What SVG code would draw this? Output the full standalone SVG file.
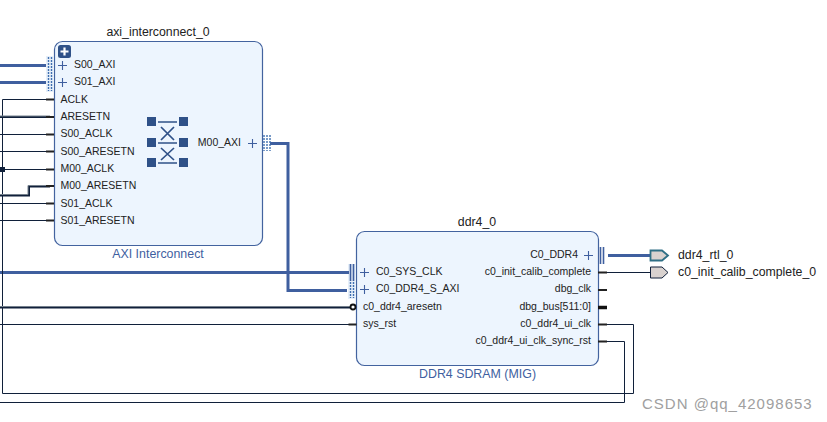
<svg xmlns="http://www.w3.org/2000/svg" width="827" height="422" viewBox="0 0 827 422">
<style>
text{font-family:"Liberation Sans",Arial,sans-serif;fill:#222}
.p{font-size:10.5px}.r{text-anchor:end}.t{font-size:12.300px;text-anchor:middle}
.ty{font-size:12.400px;text-anchor:middle;fill:#3f5f9f}
.ext{font-size:12.300px}
.blk{fill:#edf5fe;stroke:#43639f;stroke-width:1.2}
.thick{fill:none;stroke:#3f5f9f;stroke-width:3}
.thin{fill:none;stroke:#10203a;stroke-width:1}
.bus{fill:none;stroke:#10203a;stroke-width:2}
.bush{fill:none;stroke:#75808c;stroke-width:1}
.stub{stroke:#222;stroke-width:2;fill:none}
.plus{stroke:#3f5f9f;stroke-width:1.100;fill:none}
.ic{fill:#2f5188}
.icl{stroke:#2f5188;stroke-width:1.700;fill:none}
.dots{stroke:#3f6fb0;stroke-width:1.400;stroke-dasharray:2 1;fill:none}
.bars{stroke:#3f5f9f;stroke-width:1.600;fill:none}
.halo{fill:#e6eff9}
</style>
<g id="connectors">
<path class="thick" d="M0 65.500H46M0 82.500H46M270 143.500H288V290.500H347M0 272.500H348M608 255.500H650"/>
<path class="thin" d="M50 99.500H2.500V393.500H633.500V324.500H606M0 134.500H50M0 151.500H50M0 169.500H50M0 203.500H50M0 220.500H50M0 324.500H350M0 402.500H624.500V341.500H606M606 272.500H650"/>
<path class="bus" d="M0 117H50M0 195.500H29V186.500H50M0 307.500H350"/>
<path class="bush" d="M0 116H50M0 194.500H28V185.500H50M0 306.500H350"/>
<rect x="0" y="167" width="5" height="5" fill="#10203a"/>
</g>
<g id="axi_interconnect_0">
<rect class="blk" x="54.500" y="41.500" width="208" height="204" rx="8"/>
<text class="t" x="158" y="36">axi_interconnect_0</text>
<text class="ty" x="158" y="258">AXI Interconnect</text>
<rect x="58" y="45" width="13" height="13" rx="2.500" fill="#2f5188"/>
<path d="M64.500 47.500V55.500M60.500 51.500H68.500" stroke="#fff" stroke-width="2.200"/>
<rect class="halo" x="46" y="56" width="8" height="36"/>
<path class="dots" d="M48.500 57V91M51.500 57V91"/>
<path class="plus" d="M58 65.500H67M62.500 61V70M58 82.500H67M62.500 78V87M248 143.500H257M252.500 139V148"/>
<path class="stub" d="M46 99.500H54M46 117H54M46 134.500H54M46 151.500H54M46 169.500H54M46 186H54M46 203.500H54M46 220.500H54"/>
<path class="dots" d="M264 135V151M267 135V151M270 135V151"/>
<g class="p">
<text x="74" y="68">S00_AXI</text>
<text x="74" y="85">S01_AXI</text>
<text x="60.500" y="103">ACLK</text>
<text x="60.500" y="120">ARESETN</text>
<text x="60.500" y="137">S00_ACLK</text>
<text x="60.500" y="155">S00_ARESETN</text>
<text x="60.500" y="172">M00_ACLK</text>
<text x="60.500" y="189">M00_ARESETN</text>
<text x="60.500" y="207">S01_ACLK</text>
<text x="60.500" y="224">S01_ARESETN</text>
<text class="r" x="241" y="146">M00_AXI</text>
</g>
<rect class="ic" x="147" y="117" width="9" height="9"/><rect class="ic" x="179" y="117" width="9" height="9"/>
<rect class="ic" x="147" y="138" width="9" height="9"/><rect class="ic" x="179" y="138" width="9" height="9"/>
<rect class="ic" x="147" y="158" width="9" height="9"/><rect class="ic" x="179" y="158" width="9" height="9"/>
<path class="icl" d="M158 122H177M158 143H177M158 163H177M161 127L174 140M174 127L161 140M161 148L174 160M174 148L161 160"/>
</g>
<g id="ddr4_0">
<rect class="blk" x="356.500" y="231.500" width="242" height="134" rx="8"/>
<text class="t" x="477" y="226">ddr4_0</text>
<text class="ty" x="477.500" y="378">DDR4 SDRAM (MIG)</text>
<rect class="halo" x="348" y="264" width="8" height="35"/>
<path class="thick" d="M340 272.500H349"/>
<path class="bars" d="M350.500 264V281M353.500 264V281"/>
<path class="dots" d="M350.500 282V298M353.500 282V298"/>
<path class="plus" d="M360 272.500H369M364.500 268V277M360 289.500H369M364.500 285V294M584 255.500H593M588.500 251V260"/>
<path class="bars" d="M600.500 247V264M603.500 247V264"/>
<circle cx="353" cy="307" r="2.500" fill="#fff" stroke="#111" stroke-width="1.800"/>
<path class="stub" d="M348.500 324.500H356.500M598 272.500H607M598 290H607M598 324.500H607M598 341.500H607"/>
<path stroke="#111" stroke-width="3.500" d="M598 307.500H607"/>
<g class="p">
<text x="376" y="275">C0_SYS_CLK</text>
<text x="376" y="292">C0_DDR4_S_AXI</text>
<text x="363" y="310">c0_ddr4_aresetn</text>
<text x="363" y="327">sys_rst</text>
<text class="r" x="578" y="258">C0_DDR4</text>
<text class="r" x="591" y="275">c0_init_calib_complete</text>
<text class="r" x="591" y="292">dbg_clk</text>
<text class="r" x="591" y="310">dbg_bus[511:0]</text>
<text class="r" x="591" y="327">c0_ddr4_ui_clk</text>
<text class="r" x="591" y="344">c0_ddr4_ui_clk_sync_rst</text>
</g>
</g>
<g id="ddr4_rtl_0">
<path d="M650.500 250.500H662L668 255.500L662 260.500H650.500Z" fill="#d9d2cf" stroke="#2f6f85" stroke-width="1.800"/>
<text class="ext" x="678" y="259">ddr4_rtl_0</text>
</g>
<g id="c0_init_calib_complete_0">
<path d="M650.500 267H662L668 272.500L662 278H650.500Z" fill="#d9d2cf" stroke="#10203a" stroke-width="1"/>
<text class="ext" x="678" y="276">c0_init_calib_complete_0</text>
</g>
<text x="642" y="409" style="font-size:15px;letter-spacing:1px;fill:#a0a0a0">CSDN @qq_42098653</text>
</svg>
